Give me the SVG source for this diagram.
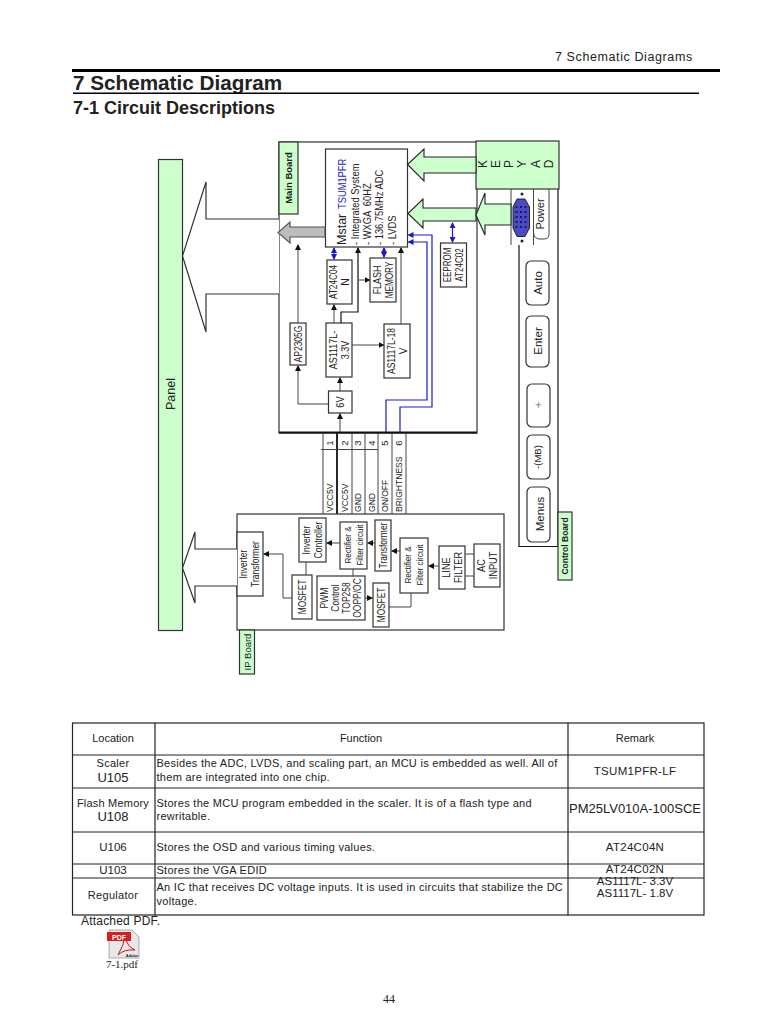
<svg xmlns="http://www.w3.org/2000/svg" width="768" height="1024" viewBox="0 0 768 1024">
<style>
text{font-family:"Liberation Sans",Arial,sans-serif;fill:#222}
.b{fill:#fff;stroke:#333;stroke-width:1.2}
.g{fill:#ccffcc;stroke:#333;stroke-width:1.2}
.l{fill:none;stroke:#444;stroke-width:1}
.k{fill:none;stroke:#111;stroke-width:1.2}
.bl{fill:none;stroke:#1a1ac8;stroke-width:1.2}
.s9{font-size:9.5px}.s10{font-size:10px}.s105{font-size:10.5px}
.m{text-anchor:middle}
</style>
<defs>
<marker id="a" markerWidth="6" markerHeight="6" refX="5" refY="3" orient="auto" markerUnits="userSpaceOnUse"><path d="M0,0L6,3L0,6z" fill="#111"/></marker>
<marker id="bb" markerWidth="6" markerHeight="6" refX="5" refY="3" orient="auto-start-reverse" markerUnits="userSpaceOnUse"><path d="M0,0L6,3L0,6z" fill="#1a1ac8"/></marker>
</defs>

<g id="page-header">
<text x="555" y="61" font-size="12.5" letter-spacing="0.6">7 Schematic Diagrams</text>
<rect x="72" y="69" width="648" height="3" fill="#000"/>
<text x="73" y="90" font-size="20.700" font-weight="bold" fill="#000">7 Schematic Diagram</text>
<rect x="73" y="92.500" width="626" height="1.500" fill="#000"/>
<text x="73" y="114" font-size="18" font-weight="bold" fill="#000">7-1 Circuit Descriptions</text>
</g>

<g id="panel">
<rect class="g" x="158.500" y="159.500" width="24" height="471"/>
<text transform="translate(175,394) rotate(-90)" class="m" font-size="12.500">Panel</text>
</g>

<g id="main-board">
<rect x="279" y="142" width="198" height="291" fill="#fff" stroke="#333" stroke-width="1.200"/>
<path d="M279,432.500H477" stroke="#111" stroke-width="2" fill="none"/>
<rect class="g" x="279" y="142" width="19" height="72"/>
<text transform="translate(292,178) rotate(-90)" class="m" font-size="9.500" font-weight="bold">Main Board</text>
</g>

<g id="control-board">
<path class="k" d="M519,245V546.500H558V189"/>
<rect class="g" x="558" y="512" width="14" height="68"/>
<text transform="translate(568,546) rotate(-90)" class="m" font-size="8.500" font-weight="bold">Control Board</text>
</g>

<g id="harness">
<path class="l" d="M323,433V514M352,433V514M365,433V514M378,433V514M392,433V514M406,433V514"/>
<path d="M337,433V514" stroke="#111" stroke-width="1.800"/>
<path class="l" d="M321,449.500H378" stroke-width="0.800"/>
<g class="s9">
<text transform="translate(333,443) rotate(-90)" class="m">1</text>
<text transform="translate(348,443) rotate(-90)" class="m">2</text>
<text transform="translate(361,443) rotate(-90)" class="m">3</text>
<text transform="translate(375,443) rotate(-90)" class="m">4</text>
<text transform="translate(388,443) rotate(-90)" class="m">5</text>
<text transform="translate(402,443) rotate(-90)" class="m">6</text>
<text transform="translate(333,512) rotate(-90) scale(.9,1)">VCC5V</text>
<text transform="translate(348,512) rotate(-90) scale(.9,1)">VCC5V</text>
<text transform="translate(361,512) rotate(-90) scale(.9,1)">GND</text>
<text transform="translate(375,512) rotate(-90) scale(.9,1)">GND</text>
<text transform="translate(388,512) rotate(-90) scale(.9,1)">ON/OFF</text>
<text transform="translate(402,512) rotate(-90) scale(.9,1)">BRIGHTNESS</text>
</g>
</g>

<g id="keypad">
<rect class="g" x="476" y="141" width="83" height="48"/>
<g font-size="12">
<text transform="translate(487,164) rotate(-90)" class="m">K</text>
<text transform="translate(500,164) rotate(-90)" class="m">E</text>
<text transform="translate(513,164) rotate(-90)" class="m">P</text>
<text transform="translate(526,164) rotate(-90)" class="m">Y</text>
<text transform="translate(540,164) rotate(-90)" class="m">A</text>
<text transform="translate(553,164) rotate(-90)" class="m">D</text>
</g>
</g>

<g id="scaler">
<rect class="b" x="325.500" y="149" width="82" height="98"/>
<text transform="translate(346,245) rotate(-90)" font-size="12.500">Mstar</text>
<text transform="translate(346,209) rotate(-90) scale(.85,1)" font-size="11" style="fill:#2222cc">TSUM1PFR</text>
<g class="s105">
<text transform="translate(359,245) rotate(-90) scale(.89,1)">- Integrated System</text>
<text transform="translate(371,245) rotate(-90) scale(.89,1)" xml:space="preserve">- WXGA  60HZ</text>
<text transform="translate(383,245) rotate(-90) scale(.89,1)">- 136.75MHz ADC</text>
<text transform="translate(396,245) rotate(-90) scale(.89,1)">- LVDS</text>
</g>
</g>

<g id="at24c04"><rect class="b" x="327" y="260" width="25" height="44"/>
<g class="s105"><text transform="translate(337,282) rotate(-90) scale(.78,1)" class="m">AT24C04</text><text transform="translate(349,282) rotate(-90)" class="m">N</text></g></g>
<g id="flash"><rect class="b" x="370" y="258" width="26" height="44"/>
<g class="s105"><text transform="translate(381,280) rotate(-90) scale(.85,1)" class="m">FLASH</text><text transform="translate(393,280) rotate(-90) scale(.78,1)" class="m">MEMORY</text></g></g>
<g id="eeprom"><rect class="b" x="440.500" y="243" width="26" height="44"/>
<g class="s10"><text transform="translate(451,265) rotate(-90) scale(.8,1)" class="m">EEPROM</text><text transform="translate(463,265) rotate(-90) scale(.8,1)" class="m">AT24C02</text></g></g>
<g id="ap2305g"><rect class="b" x="290" y="323" width="16" height="42"/>
<text transform="translate(302,344) rotate(-90) scale(.85,1)" class="m s10">AP2305G</text></g>
<g id="as1117-33"><rect class="b" x="326" y="323" width="26" height="54"/>
<g class="s105"><text transform="translate(337,350) rotate(-90) scale(.85,1)" class="m">AS1117L-</text><text transform="translate(349,350) rotate(-90) scale(.85,1)" class="m">3.3V</text></g></g>
<g id="as1117-18"><rect class="b" x="384" y="324" width="26" height="54"/>
<g class="s10"><text transform="translate(395,351) rotate(-90) scale(.85,1)" class="m">AS1117L-18</text><text transform="translate(407,351) rotate(-90)" class="m">V</text></g></g>
<g id="v6"><rect class="b" x="328.500" y="391" width="23.500" height="22"/>
<text transform="translate(344,402) rotate(-90) scale(.85,1)" class="m" font-size="11">6V</text></g>

<g id="vga">
<path class="l" d="M511,189V245M533.500,189V245"/>
<path d="M533.500,189V232Q533.500,239 540,239H544Q549,239 549,234V189" fill="none" stroke="#444"/>
<text transform="translate(544,214) rotate(-90)" class="m" font-size="11">Power</text>
<path d="M517,199H525L529.500,207V228L525,236.500H517L513,228V207z" fill="#4a4ac4" stroke="#223" stroke-width="1"/>
<g fill="#1a1a55">
<circle cx="522" cy="194" r="1.500"/><circle cx="522" cy="241" r="1.500"/>
<path d="M515.500,206h2v2h-2zM515.500,211h2v2h-2zM515.500,216h2v2h-2zM515.500,221h2v2h-2zM515.500,226h2v2h-2zM520,206h2v2h-2zM520,211h2v2h-2zM520,216h2v2h-2zM520,221h2v2h-2zM520,226h2v2h-2zM524.500,206h2v2h-2zM524.500,211h2v2h-2zM524.500,216h2v2h-2zM524.500,221h2v2h-2zM524.500,226h2v2h-2z"/>
</g>
</g>

<g id="btn-auto"><rect class="b" x="526" y="261" width="23" height="44" rx="5"/><text transform="translate(542,283) rotate(-90)" class="m" font-size="11.500">Auto</text></g>
<g id="btn-enter"><rect class="b" x="526" y="316" width="23" height="51" rx="5"/><text transform="translate(542,341) rotate(-90)" class="m" font-size="11.500">Enter</text></g>
<g id="btn-plus"><rect class="b" x="527" y="384" width="23" height="43" rx="5"/><text transform="translate(542,405) rotate(-90)" class="m" font-size="11.500" style="fill:#777">+</text></g>
<g id="btn-minus"><rect class="b" x="527" y="435" width="23" height="44" rx="5"/><text transform="translate(541,457) rotate(-90)" class="m s9">-(MB)</text></g>
<g id="btn-menus"><rect class="b" x="527" y="487" width="23" height="55" rx="5"/><text transform="translate(544,514) rotate(-90)" class="m" font-size="11.500">Menus</text></g>

<g id="ip-board">
<rect x="237" y="514" width="267" height="116" fill="#fff" stroke="#333" stroke-width="1.200"/>
<rect class="g" x="239.500" y="630" width="15" height="44"/>
<text transform="translate(251,652) rotate(-90)" class="m" font-size="9.500">IP Board</text>
</g>
<g id="inv-transformer"><rect class="b" x="237" y="532" width="26" height="64"/>
<g class="s10"><text transform="translate(247,564) rotate(-90) scale(.85,1)" class="m">Inverter</text><text transform="translate(259,564) rotate(-90) scale(.85,1)" class="m">Transformer</text></g></g>
<g id="inv-controller"><rect class="b" x="299" y="518" width="27" height="44"/>
<g class="s10"><text transform="translate(310,540) rotate(-90) scale(.85,1)" class="m">Inverter</text><text transform="translate(322,540) rotate(-90) scale(.85,1)" class="m">Controller</text></g></g>
<g id="mosfet1"><rect class="b" x="292" y="575" width="20" height="44"/>
<text transform="translate(306,597) rotate(-90) scale(.83,1)" class="m s10">MOSFET</text></g>
<g id="rectifier1"><rect class="b" x="340" y="522" width="27" height="47"/>
<g class="s9"><text transform="translate(351,545) rotate(-90) scale(.85,1)" class="m">Rectifier &amp;</text><text transform="translate(363,545) rotate(-90) scale(.85,1)" class="m">Filter circuit</text></g></g>
<g id="pwm"><rect class="b" x="317" y="576" width="48" height="44"/>
<g class="s10"><text transform="translate(328,598) rotate(-90) scale(.85,1)" class="m">PWM</text><text transform="translate(339,598) rotate(-90) scale(.85,1)" class="m">Control</text><text transform="translate(350,598) rotate(-90) scale(.85,1)" class="m">TOP258</text><text transform="translate(361,598) rotate(-90) scale(.85,1)" class="m">OOPP/OC</text></g></g>
<g id="transformer"><rect class="b" x="375" y="520" width="16" height="51"/>
<text transform="translate(387,545.500) rotate(-90) scale(.85,1)" class="m s10">Transformer</text></g>
<g id="mosfet2"><rect class="b" x="373" y="583" width="16" height="44"/>
<text transform="translate(385,605) rotate(-90) scale(.83,1)" class="m s10">MOSFET</text></g>
<g id="rectifier2"><rect class="b" x="400" y="538" width="28" height="55"/>
<g class="s9"><text transform="translate(411,565) rotate(-90) scale(.85,1)" class="m">Rectifier &amp;</text><text transform="translate(423,565) rotate(-90) scale(.85,1)" class="m">Filter circuit</text></g></g>
<g id="line-filter"><rect class="b" x="439" y="546" width="26" height="43"/>
<g class="s105"><text transform="translate(450,567.500) rotate(-90) scale(.88,1)" class="m">LINE</text><text transform="translate(462,567.500) rotate(-90) scale(.88,1)" class="m">FILTER</text></g></g>
<g id="ac-input"><rect class="b" x="474" y="544" width="26" height="43"/>
<g class="s105"><text transform="translate(485,565.500) rotate(-90) scale(.88,1)" class="m">AC</text><text transform="translate(497,565.500) rotate(-90) scale(.88,1)" class="m">INPUT</text></g></g>

<g id="connectors">
<path d="M279,219H206V182L182.500,256L206,332V294H279" fill="#fff" stroke="#333" stroke-width="1.200"/>
<path d="M237,549H195V532L182.500,568L195,603V586H237" fill="#fff" stroke="#333" stroke-width="1.200"/>
<path d="M325,227H290V222L278,232.500L290,243V237H325z" fill="#bdbdbd" stroke="#555" stroke-width="1.200"/>
<path d="M476,157H424V149L407.500,164.500L424,181V173H476z" fill="#ccffcc" stroke="#222" stroke-width="1.100"/>
<path d="M476,208H423V199L408,213.500L423,228V221H476z" fill="#ccffcc" stroke="#222" stroke-width="1.100"/>
<path d="M511,204H485V193L476,215L485,235V225H511z" fill="#ccffcc" stroke="#222" stroke-width="1.100"/>
<path class="l" d="M298,323V245" marker-end="url(#a)"/>
<path class="l" d="M334,323V305" marker-end="url(#a)"/>
<path class="k" d="M341,323V312H358V248" marker-end="url(#a)"/>
<path class="l" d="M358,280H369.500" marker-end="url(#a)"/>
<path class="l" d="M401,324V248" marker-end="url(#a)"/>
<path class="l" d="M352,345H383.500" marker-end="url(#a)"/>
<path class="l" d="M340,391V378" marker-end="url(#a)"/>
<path class="l" d="M340,432V414" marker-end="url(#a)"/>
<path class="l" d="M328,404H298V366" marker-end="url(#a)"/>
<path class="bl" d="M334,248V259" marker-start="url(#bb)" marker-end="url(#bb)"/>
<path class="bl" d="M384,248V257" marker-start="url(#bb)" marker-end="url(#bb)"/>
<path class="bl" d="M452.500,223V242" marker-start="url(#bb)" marker-end="url(#bb)"/>
<path class="bl" d="M386,432V400H427V242H408.500" marker-end="url(#bb)"/>
<path class="bl" d="M400,432V407H432V235H408.500" marker-end="url(#bb)"/>
<path class="l" d="M465,554H474M465,576H474"/>
<path class="l" d="M439,566H429" marker-end="url(#a)"/>
<path class="l" d="M400,551H392" marker-end="url(#a)"/>
<path class="l" d="M375,543H368" marker-end="url(#a)"/>
<path class="l" d="M340,543H327" marker-end="url(#a)"/>
<path class="l" d="M306,562V575M353,569V576"/>
<path class="l" d="M365,598H372" marker-end="url(#a)"/>
<path class="l" d="M389,607H411V593"/>
<path class="l" d="M292,598H283V554H264" marker-end="url(#a)"/>
</g>

<g id="table">
<rect x="72.500" y="723" width="631.500" height="192" fill="#fff" stroke="#222" stroke-width="1.200"/>
<path d="M72,755H704M72,788H704M72,832H704M72,864H704M72,878H704" stroke="#222" stroke-width="1"/>
<path d="M155,723V915M568,723V915" stroke="#222" stroke-width="1.200"/>
<g font-size="11">
<text x="113" y="742" class="m">Location</text>
<text x="361" y="742" class="m">Function</text>
<text x="635" y="742" class="m">Remark</text>
<text x="113" y="767" class="m" letter-spacing=".3">Scaler</text>
<text x="113" y="782" class="m" font-size="13">U105</text>
<g letter-spacing=".28">
<text x="156.500" y="767">Besides the ADC, LVDS, and scaling part, an MCU is embedded as well. All of</text>
<text x="156.500" y="781">them are integrated into one chip.</text>
<text x="156.500" y="807">Stores the MCU program embedded in the scaler. It is of a flash type and</text>
<text x="156.500" y="820">rewritable.</text>
<text x="156.500" y="851">Stores the OSD and various timing values.</text>
<text x="156.500" y="874">Stores the VGA EDID</text>
<text x="156.500" y="891">An IC that receives DC voltage inputs. It is used in circuits that stabilize the DC</text>
<text x="156.500" y="905">voltage.</text>
</g>
<text x="635" y="775" class="m" font-size="11.500" letter-spacing=".3">TSUM1PFR-LF</text>
<text x="113" y="807" class="m" font-size="11" letter-spacing=".2">Flash Memory</text>
<text x="113" y="821" class="m" font-size="13">U108</text>
<text x="635" y="813" class="m" font-size="13">PM25LV010A-100SCE</text>
<text x="113" y="851" class="m" font-size="11.500">U106</text>
<text x="635" y="851" class="m" font-size="11.500" letter-spacing=".3">AT24C04N</text>
<text x="113" y="874" class="m" font-size="11.500">U103</text>
<text x="635" y="873" class="m" font-size="11.500" letter-spacing=".3">AT24C02N</text>
<text x="113" y="899" class="m" letter-spacing=".3">Regulator</text>
<text x="635" y="885" class="m" font-size="11.500">AS1117L- 3.3V</text>
<text x="635" y="897" class="m" font-size="11.500">AS1117L- 1.8V</text>
</g>
</g>

<g id="attachment">
<text x="81" y="925" font-size="12" letter-spacing="0.200">Attached PDF.</text>
<path d="M109,930H132L139,937V958H109z" fill="#e8e8ea" stroke="#999" stroke-width="0.800"/>
<path d="M118,955Q124,945 125,936Q127,947 135,950Q124,949 118,955z" fill="none" stroke="#c41a1a" stroke-width="1"/>
<rect x="107" y="932" width="24" height="9" fill="#d42020"/>
<text x="119" y="939.500" class="m" font-size="7" font-weight="bold" style="fill:#fff">PDF</text>
<text x="132" y="957" class="m" font-size="4" font-weight="bold">Adobe</text>
<text x="122" y="968" class="m" font-size="11" style="font-family:'Liberation Serif',serif">7-1.pdf</text>
</g>
<text id="page-number" x="389" y="1003" class="m" font-size="12" style="font-family:'Liberation Serif',serif">44</text>
</svg>
